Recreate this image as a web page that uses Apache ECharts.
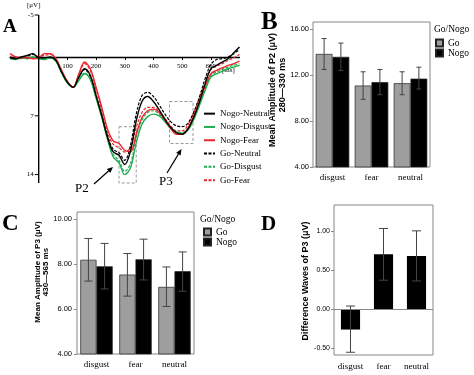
<!DOCTYPE html>
<html>
<head>
<meta charset="utf-8">
<script src="https://cdn.jsdelivr.net/npm/echarts@6/dist/echarts.min.js"></script>
<style>
html,body{margin:0;padding:0;background:#fff;}
#main{width:474px;height:375px;}
</style>
</head>
<body>
<div id="main"></div>
<script>
// ---- panel A : grand average waveforms (ms / uV, positive down) ----
var times = [-100,-80,-60,-40,-20,0,20,40,60,80,100,120,140,160,180,200,220,240,260,280,300,
             320,340,360,380,400,420,440,460,480,500,520,540,560,580,600,620,640,660,680,700];
var nogoNeutral = [0.1,0.2,0.0,-0.2,-0.4,0.1,0.1,0.0,0.4,1.8,3.0,3.6,2.4,1.4,2.2,4.6,7.0,9.6,11.3,11.7,12.8,
                   11.2,7.6,5.3,4.7,5.3,6.3,7.4,8.4,9.0,9.2,8.6,7.2,5.4,3.2,1.4,1.0,0.6,0.2,-0.5,-1.2];
var nogoDisgust = [0.2,0.3,0.1,0.2,0.0,0.2,0.3,0.1,0.5,1.9,3.1,3.6,2.8,2.0,2.7,4.9,7.2,9.8,11.9,12.6,14.0,
                   13.2,10.2,8.0,7.1,6.8,7.0,7.7,8.5,9.0,9.1,8.7,7.5,5.8,4.0,2.4,2.0,1.7,1.4,1.2,1.0];
var nogoFear    = [-0.4,0.0,0.1,0.1,0.2,0.1,-0.4,-0.4,0.2,1.6,2.9,3.6,2.0,0.6,1.4,3.6,6.0,8.6,10.0,10.3,11.1,
                   11.3,9.2,7.2,6.4,6.2,6.6,7.5,8.5,9.2,9.2,8.5,7.1,5.3,3.5,2.0,1.6,1.3,1.0,0.8,0.5];
var goNeutral   = [0.0,0.1,0.1,-0.1,-0.3,0.0,0.1,0.1,0.4,1.8,3.0,3.6,2.4,1.5,2.3,4.6,7.0,9.4,11.0,11.4,12.3,
                   10.5,6.8,4.6,4.2,4.7,5.7,6.8,7.7,8.2,8.3,7.9,6.6,4.8,2.6,0.9,0.3,0.2,0.0,-0.4,-0.9];
var goDisgust   = [0.1,0.2,0.2,0.0,0.1,0.2,0.2,0.1,0.5,1.9,3.1,3.6,2.7,1.9,2.6,4.8,7.1,9.6,11.6,12.3,13.6,
                   12.7,9.6,7.5,6.6,6.4,6.8,7.6,8.4,8.9,9.0,8.5,7.3,5.6,3.8,2.2,1.8,1.5,1.2,1.0,0.8];
var goFear      = [0.0,0.1,0.0,0.1,0.1,0.0,-0.2,-0.3,0.2,1.6,2.9,3.6,2.1,0.8,1.6,3.9,6.4,9.0,10.4,10.8,11.3,
                   10.8,8.4,6.6,6.0,6.0,6.5,7.3,8.2,8.8,8.8,8.1,6.7,4.9,3.1,1.5,1.1,0.8,0.4,0.1,-0.3];
var ampTicks = [-5, 7, 14];
var ampRange = [-5, 15];
var msTicks = [100, 200, 300, 400, 500, 600];
var p2Window = [280, 340, 8.3, 15];   // dashed box t0,t1,v0,v1
var p3Window = [456, 538, 5.3, 10.3];

// ---- panels B, C, D ----
var emotions = ['disgust', 'fear', 'neutral'];
var p2Go = [13.85, 11.1, 11.3];
var p2Nogo = [13.6, 11.4, 11.7];
var p2GoErr = [[12.5, 15.2], [9.9, 12.3], [10.3, 12.3]];
var p2NogoErr = [[12.4, 14.8], [10.3, 12.5], [10.8, 12.7]];
var p2Ticks = [4, 8, 12, 16];

var p3Go = [8.2, 7.54, 6.99];
var p3Nogo = [7.91, 8.22, 7.69];
var p3GoErr = [[7.25, 9.15], [6.58, 8.48], [6.12, 7.88]];
var p3NogoErr = [[6.9, 8.93], [7.3, 9.12], [6.8, 8.55]];
var p3Ticks = [4, 6, 8, 10];

var diffP3 = [-0.26, 0.70, 0.68];
var diffErr = [[-0.55, 0.04], [0.37, 1.03], [0.36, 1.00]];
var diffTicks = [-0.5, 0, 0.5, 1];

var BLACK = '#000', GREEN = '#1fae4e', RED = '#e8262b', GREY = '#9e9e9e';
var SERIF = '"Liberation Serif", "DejaVu Serif", serif';
var SANS = '"Liberation Sans", Arial, sans-serif';

// geometry of panel A
var A_LEFT = 10, A_TOP = 15, A_W = 229.5, A_H = 168;
var A_X0 = A_LEFT + A_W * 100 / 800;      // pixel of 0 ms
var A_Y0 = A_TOP + A_H * 5 / 20;          // pixel of 0 uV

function pairs(ys) {
  return times.map(function (t, i) { return [t, ys[i]]; });
}
function withIndex(arr) {
  return arr.map(function (e, i) { return [i, e[0], e[1]]; });
}

function wave(name, ys, color, dashed) {
  return {
    name: name, type: 'line', xAxisIndex: 0, yAxisIndex: 0,
    data: pairs(ys), smooth: 0.35, symbol: 'none',
    lineStyle: { color: color, width: dashed ? 1.2 : 1.4, type: dashed ? [3, 1.5] : 'solid' },
    itemStyle: { color: color }
  };
}

// error bars drawn over grouped bars
function errorBars(nBars, slot, gap, capHalf) {
  return function (params, api) {
    var i = api.value(0);
    var top = api.coord([i, api.value(2)]);
    var bot = api.coord([i, api.value(1)]);
    var band = api.size([1, 0])[0];
    var barW = band * (1 - gap) / nBars;
    var x = top[0] + (slot - (nBars - 1) / 2) * barW;
    var st = { stroke: '#444', lineWidth: 1 };
    return {
      type: 'group', children: [
        { type: 'line', shape: { x1: x, y1: top[1], x2: x, y2: bot[1] }, style: st },
        { type: 'line', shape: { x1: x - capHalf, y1: top[1], x2: x + capHalf, y2: top[1] }, style: st },
        { type: 'line', shape: { x1: x - capHalf, y1: bot[1], x2: x + capHalf, y2: bot[1] }, style: st }
      ]
    };
  };
}

// amplitude axis (line at 0 ms + left ticks) drawn through the grid's own scales
function ampAxisRender(params, api) {
  var top = api.coord([0, ampRange[0]]);
  var bot = api.coord([0, ampRange[1]]);
  var kids = [{ type: 'rect', shape: { x: top[0] - 0.7, y: top[1], width: 1.4, height: bot[1] - top[1] },
                style: { fill: '#000' } }];
  ampTicks.forEach(function (v) {
    var p = api.coord([0, v]);
    kids.push({ type: 'rect', shape: { x: p[0] - 4, y: p[1] - 0.5, width: 4, height: 1 }, style: { fill: '#000' } });
  });
  return { type: 'group', children: kids };
}

function barAxisY(idx, min, max, ticks, size, margin) {
  return {
    type: 'value', gridIndex: idx, min: min, max: max,
    axisLine: { show: false },
    axisTick: { show: true, length: 3, customValues: ticks, lineStyle: { color: '#888' } },
    axisLabel: { customValues: ticks, fontFamily: SANS, fontSize: size, color: '#000', margin: margin,
                 formatter: function (v) { return v.toFixed(2); } },
    splitLine: { show: false }
  };
}
function barAxisX(idx, margin) {
  return {
    type: 'category', gridIndex: idx, data: emotions,
    axisLine: { show: false }, axisTick: { show: false },
    axisLabel: { fontFamily: SERIF, fontSize: 9, color: '#000', margin: margin, interval: 0 }
  };
}
function bars(name, vals, color, xi, gap) {
  return {
    name: name, type: 'bar', xAxisIndex: xi, yAxisIndex: xi, data: vals,
    barGap: 0, barCategoryGap: gap,
    itemStyle: { color: color, borderColor: '#222', borderWidth: 0.7 }
  };
}
function errSeries(data, xi, n, slot, gap, cap) {
  return {
    type: 'custom', xAxisIndex: xi, yAxisIndex: xi, data: withIndex(data),
    encode: { x: 0, y: [1, 2] }, z: 5, silent: true,
    renderItem: errorBars(n, slot, gap, cap)
  };
}

function txt(text, x, y, font) {
  return { type: 'text', x: x, y: y, silent: true,
           style: { text: text, font: font, fill: '#000', align: 'left', verticalAlign: 'middle' } };
}
function vtxt(text, x, y, font) {
  return { type: 'text', x: x, y: y, rotation: Math.PI / 2, silent: true,
           style: { text: text, font: font, fill: '#000', align: 'center', verticalAlign: 'middle' } };
}
function seg(x1, y1, x2, y2, w) {
  return { type: 'line', silent: true, z: 10, shape: { x1: x1, y1: y1, x2: x2, y2: y2 },
           style: { stroke: '#000', lineWidth: w } };
}
function arrow(x1, y1, x2, y2) {
  var dx = x2 - x1, dy = y2 - y1, L = Math.sqrt(dx * dx + dy * dy);
  var ux = dx / L, uy = dy / L, bx = x2 - ux * 6, by = y2 - uy * 6;
  return [
    seg(x1, y1, bx, by, 1.2),
    { type: 'polygon', silent: true,
      shape: { points: [[x2, y2], [bx - uy * 2.6, by + ux * 2.6], [bx + uy * 2.6, by - ux * 2.6]] },
      style: { fill: '#000' } }
  ];
}

var chart = echarts.init(document.getElementById('main'), null, { renderer: 'canvas' });

var gapB = 0.14, gapC = 0.17, gapD = 0.42;

var option = {
  animation: false,
  backgroundColor: '#fff',
  grid: [
    { left: A_LEFT, top: A_TOP, width: A_W, height: A_H },
    { left: 313, top: 22, width: 117, height: 145, show: true, borderColor: '#888', borderWidth: 1 },
    { left: 77, top: 212, width: 117, height: 142, show: true, borderColor: '#888', borderWidth: 1 },
    { left: 334, top: 205, width: 99, height: 150, show: true, borderColor: '#888', borderWidth: 1 }
  ],
  xAxis: [
    {
      // time axis drawn on the 0 uV line
      type: 'value', gridIndex: 0, min: -100, max: 700, position: 'bottom',
      offset: -(A_TOP + A_H - A_Y0),
      axisLine: { show: true, onZero: false, lineStyle: { color: '#000', width: 1.3 } },
      axisTick: { show: true, customValues: msTicks, length: 3, lineStyle: { color: '#000' } },
      axisLabel: { customValues: msTicks, fontFamily: SERIF, fontSize: 7, color: '#000', margin: 6 },
      splitLine: { show: false }
    },
    barAxisX(1, 6),
    barAxisX(2, 6),
    barAxisX(3, 7)
  ],
  yAxis: [
    {
      // amplitude labels at 0 ms
      type: 'value', gridIndex: 0, min: ampRange[0], max: ampRange[1], inverse: true, position: 'left',
      offset: -(A_X0 - A_LEFT),
      axisLine: { show: false, onZero: false },
      axisTick: { show: false },
      axisLabel: { customValues: ampTicks, fontFamily: SERIF, fontSize: 7, color: '#000', margin: 5 },
      splitLine: { show: false }
    },
    barAxisY(1, 4, 16.64, p2Ticks, 7.5, 4),
    barAxisY(2, 4, 10.33, p3Ticks, 7.5, 5),
    barAxisY(3, -0.585, 1.33, diffTicks, 7, 4)
  ],
  legend: [
    {
      data: ['Nogo-Neutral', 'Nogo-Disgust', 'Nogo-Fear', 'Go-Neutral', 'Go-Disgust', 'Go-Fear'],
      orient: 'vertical', left: 203, top: 107, padding: 0, itemGap: 0,
      itemWidth: 11, itemHeight: 8, selectedMode: false,
      itemStyle: { color: 'rgba(0,0,0,0)', borderWidth: 0, opacity: 0 },
      textStyle: { fontFamily: SERIF, fontSize: 9, color: '#000', lineHeight: 13.3 }
    },
    {
      data: ['Go', 'Nogo'], orient: 'vertical', left: 435, top: 38, padding: 0, itemGap: 0,
      itemWidth: 7, itemHeight: 7, icon: 'rect', selectedMode: false,
      textStyle: { fontFamily: SERIF, fontSize: 9.5, color: '#000', lineHeight: 7.3 }
    },
    {
      data: ['Go', 'Nogo'], orient: 'vertical', left: 203, top: 227, padding: 0, itemGap: 0,
      itemWidth: 7, itemHeight: 7, icon: 'rect', selectedMode: false,
      textStyle: { fontFamily: SERIF, fontSize: 9.5, color: '#000', lineHeight: 7.3 }
    }
  ],
  series: [
    {
      type: 'custom', xAxisIndex: 0, yAxisIndex: 0, silent: true, z: 6, clip: false,
      data: [[0, 0]], encode: { x: 0, y: 1 },
      renderItem: ampAxisRender
    },
    (function () {
      var s = wave('Go-Disgust', goDisgust, GREEN, true);
      s.markArea = {
        silent: true,
        itemStyle: { color: 'rgba(0,0,0,0)', borderColor: '#999', borderWidth: 1, borderType: [3, 2] },
        data: [
          [{ xAxis: p2Window[0], yAxis: p2Window[2] }, { xAxis: p2Window[1], yAxis: p2Window[3] }],
          [{ xAxis: p3Window[0], yAxis: p3Window[2] }, { xAxis: p3Window[1], yAxis: p3Window[3] }]
        ]
      };
      return s;
    })(),
    wave('Go-Fear', goFear, RED, true),
    wave('Go-Neutral', goNeutral, BLACK, true),
    wave('Nogo-Disgust', nogoDisgust, GREEN, false),
    wave('Nogo-Fear', nogoFear, RED, false),
    wave('Nogo-Neutral', nogoNeutral, BLACK, false),

    bars('Go', p2Go, GREY, 1, '14%'),
    bars('Nogo', p2Nogo, BLACK, 1, '14%'),
    errSeries(p2GoErr, 1, 2, 0, gapB, 2.5),
    errSeries(p2NogoErr, 1, 2, 1, gapB, 2.5),

    bars('Go', p3Go, GREY, 2, '17%'),
    bars('Nogo', p3Nogo, BLACK, 2, '17%'),
    errSeries(p3GoErr, 2, 2, 0, gapC, 4),
    errSeries(p3NogoErr, 2, 2, 1, gapC, 4),

    {
      name: 'Difference', type: 'bar', xAxisIndex: 3, yAxisIndex: 3, data: diffP3,
      barCategoryGap: '42%', itemStyle: { color: BLACK },
      markLine: {
        silent: true, symbol: 'none', label: { show: false },
        lineStyle: { color: '#888', type: 'solid', width: 1 },
        data: [{ yAxis: 0 }]
      }
    },
    errSeries(diffErr, 3, 1, 0, gapD, 4.5)
  ],
  graphic: [
    txt('A', 3, 27, 'bold 19px ' + SERIF),
    txt('B', 261, 23, 'bold 25px ' + SERIF),
    txt('C', 2, 224, 'bold 23px ' + SERIF),
    txt('D', 261, 225, 'bold 21px ' + SERIF),
    txt('[\u03bcV]', 27, 5, '7px ' + SERIF),
    txt('[ms]', 222, 70, '7px ' + SERIF),
    txt('P2', 75, 189, '13px ' + SERIF),
    txt('P3', 159, 182, '13px ' + SERIF),
    txt('Go/Nogo', 434, 29, '9.5px ' + SERIF),
    txt('Go/Nogo', 200, 219, '9.5px ' + SERIF),
    vtxt('Mean Amplitude of P2 (\u03bcV)', 273, 90, 'bold 9px ' + SANS),
    vtxt('280\u2014330 ms', 282.5, 85, 'bold 9px ' + SANS),
    vtxt('Mean Amplitude of P3 (\u03bcV)', 38, 272, 'bold 8px ' + SANS),
    vtxt('430\u2014565 ms', 46, 272, 'bold 8px ' + SANS),
    vtxt('Difference Waves of P3 (\u03bcV)', 306, 281, 'bold 9px ' + SANS)
  ].concat(arrow(94, 184, 113, 167)).concat(arrow(167, 173, 181.5, 149))
};

chart.setOption(option);
</script>
</body>
</html>
